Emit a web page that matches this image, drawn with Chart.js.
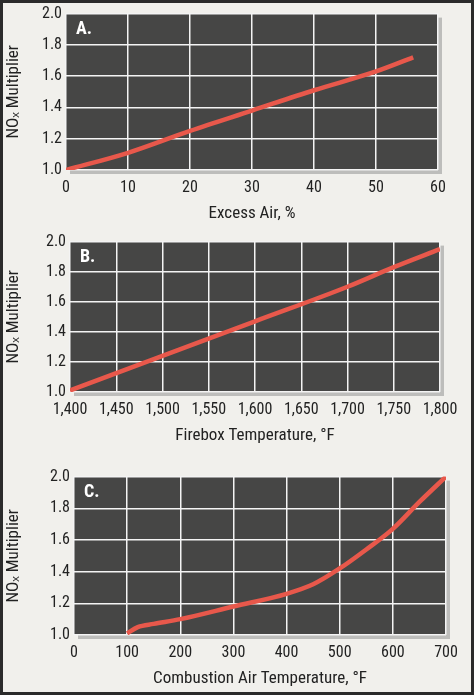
<!DOCTYPE html>
<html><head><meta charset="utf-8">
<script src="https://cdn.jsdelivr.net/npm/chart.js@4"></script>
<style>
html,body{margin:0;padding:0;}
body{width:474px;height:695px;background:#f1f0ec;position:relative;overflow:hidden;box-sizing:border-box;border:3px solid #2b2b2b;}
.c{position:absolute;left:-3px;width:474px;}
</style></head><body>
<div class="c" style="top:-3px;height:228px"><canvas id="a"></canvas></div>
<div class="c" style="top:225px;height:222px"><canvas id="b"></canvas></div>
<div class="c" style="top:460px;height:230px"><canvas id="c"></canvas></div>
<script>
const yTicks=[1.0,1.2,1.4,1.6,1.8,2.0];
const xA=[0,10,20,30,40,50,56];
const yA=[1.0,1.11,1.25,1.38,1.51,1.63,1.72];
const xB=[1400,1500,1600,1700,1750,1800];
const yB=[1.01,1.24,1.47,1.70,1.83,1.95];
const xC=[100,120,150,200,300,400,450,500,550,600,650,700];
const yC=[1.01,1.05,1.07,1.10,1.18,1.26,1.32,1.42,1.54,1.67,1.84,2.0];
const FONT="'Liberation Sans Narrow','Roboto Condensed','Liberation Sans',sans-serif";
const bg={id:'bg',beforeDraw(ch,a,o){const {ctx,chartArea:c}=ch;ctx.save();ctx.fillStyle='#bdbdbb';ctx.fillRect(c.left+4,c.top+4,c.width,c.height);ctx.fillStyle='#464645';ctx.fillRect(c.left,c.top,c.width,c.height);ctx.restore();},
afterDatasetsDraw(ch,a,o){const {ctx,chartArea:c}=ch;ctx.save();ctx.fillStyle='#fff';ctx.font='bold 18px '+FONT;ctx.textBaseline='top';ctx.fillText(o.label,c.left+10,c.top+7);ctx.restore();}};
function make(id,xs,ys,label,xmin,xmax,step,title,left,right,fmt){
 new Chart(document.getElementById(id),{type:'line',
 data:{datasets:[{data:xs.map((x,i)=>({x,y:ys[i]})),borderColor:'#e8584b',borderWidth:4.5,pointRadius:0,tension:0.4,cubicInterpolationMode:'monotone'}]},
 options:{responsive:true,maintainAspectRatio:false,animation:false,
 layout:{padding:{top:10,right:right,left:0,bottom:0}},
 plugins:{legend:{display:false},tooltip:{enabled:false},bg:{label}},
 scales:{
  x:{type:'linear',min:xmin,max:xmax,ticks:{stepSize:step,color:'#222',font:{family:FONT,size:16},callback:fmt,maxRotation:0,padding:8},
   grid:{color:'#f4f4f4',lineWidth:1.5,drawTicks:false},border:{display:false},
   title:{display:true,text:title,color:'#222',font:{family:FONT,size:17},padding:{top:2}},
   afterFit(s){s.height=58;}},
  y:{min:1,max:2,afterBuildTicks(s){s.ticks=yTicks.map(v=>({value:v}));},
   ticks:{color:'#222',font:{family:FONT,size:16},callback:v=>v.toFixed(1),padding:4},
   grid:{color:'#f4f4f4',lineWidth:1.5,drawTicks:false},border:{display:false},
   title:{display:true,text:'NOₓ Multiplier',color:'#222',font:{family:FONT,size:17},padding:{bottom:2}},
   afterFit(s){s.width=left;}}
 }},plugins:[bg]});
}
make('a',xA,yA,'A.',0,60,10,'Excess Air, %',66,36,v=>v);
make('b',xB,yB,'B.',1400,1800,50,'Firebox Temperature, °F',70,34,v=>v.toLocaleString('en-US'));
make('c',xC,yC,'C.',0,700,100,'Combustion Air Temperature, °F',74,28,v=>v);
</script></body></html>
